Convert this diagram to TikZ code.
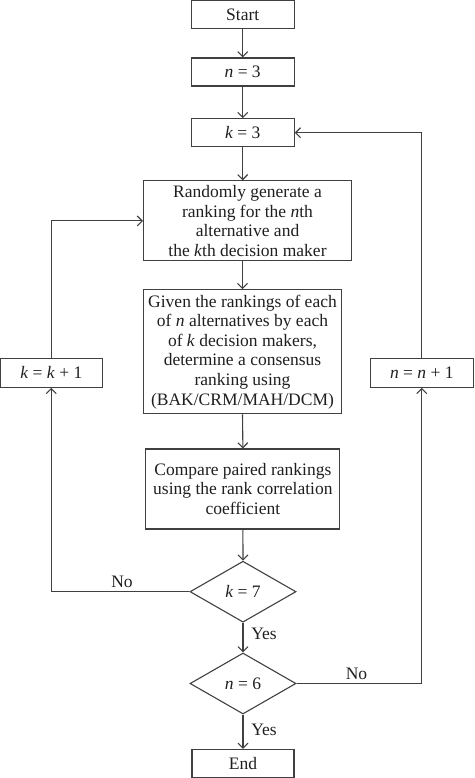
\documentclass[tikz,border=0pt]{standalone}
\usepackage{fontspec}
\setmainfont{Liberation Serif}
\usetikzlibrary{arrows.meta,shapes.geometric}
\begin{document}
\begin{tikzpicture}[x=1pt,y=-1pt,
  every node/.style={font=\fontsize{17.5}{19.6}\selectfont, text=black!88},
  box/.style={draw=black!75, line width=1.1pt, rectangle, inner sep=0pt, align=center},
  dec/.style={draw=black!75, line width=1.1pt, diamond, inner sep=0pt, minimum width=106pt, minimum height=61pt},
  lbl/.style={inner sep=0pt},
  conn/.style={draw=black!75, line width=1.1pt, -{Straight Barb[length=5pt,width=10pt]}},
  line/.style={draw=black!75, line width=1.1pt}]
\useasboundingbox (0,0) rectangle (474,778);
\node[box, minimum width=103pt, minimum height=28pt] (start) at (242.7,14.6) {Start};
\node[box, minimum width=103pt, minimum height=28pt] (n3) at (242.7,72) {\textit{n} = 3};
\node[box, minimum width=103pt, minimum height=28pt] (k3) at (242.7,132.7) {\textit{k} = 3};
\node[box, minimum width=208pt, minimum height=80pt] (rand) at (247.5,220.9) {Randomly generate a\\ranking for the \textit{n}th\\alternative and\\the \textit{k}th decision maker};
\node[box, minimum width=198pt, minimum height=124pt] (given) at (242.5,351.7) {Given the rankings of each\\of \textit{n} alternatives by each\\of \textit{k} decision makers,\\determine a consensus\\ranking using\\(BAK/CRM/MAH/DCM)};
\node[box, minimum width=194pt, minimum height=80pt] (comp) at (242.9,489) {Compare paired rankings\\using the rank correlation\\coefficient};
\node[box, minimum width=102pt, minimum height=29pt] (kinc) at (51.3,372.8) {\textit{k} = \textit{k} + 1};
\node[box, minimum width=103pt, minimum height=29pt] (ninc) at (421.8,372.8) {\textit{n} = \textit{n} + 1};
\node[dec] (k7) at (243,591.7) {\textit{k} = 7};
\node[dec] (n6) at (243,683.5) {\textit{n} = 6};
\node[box, minimum width=102pt, minimum height=28pt] (end) at (243,763.5) {End};
\draw[conn] (start.south) -- (n3.north);
\draw[conn] (n3.south) -- (k3.north);
\draw[conn] (k3.south) -- (k3.south |- rand.north);
\draw[conn] (given.north |- rand.south) -- (given.north);
\draw[conn] (given.south) -- (comp.north);
\draw[conn] (comp.south) -- (k7.north);
\draw[conn] (k7.south) -- (n6.north);
\draw[conn] (n6.south) -- (end.north);
\draw[conn] (k7.west) -- (kinc.south |- k7.west) -- (kinc.south);
\draw[conn] (kinc.north) -- (kinc.north |- rand.west) -- (rand.west);
\draw[conn] (n6.east) -- (ninc.south |- n6.east) -- (ninc.south);
\draw[conn] (ninc.north) -- (ninc.north |- k3.east) -- (k3.east);
\node[lbl] (nol) at (122,582) {No};
\node[lbl] (nor) at (356.5,674) {No};
\node[lbl] (yes1) at (264,634) {Yes};
\node[lbl] (yes2) at (264,730) {Yes};
\end{tikzpicture}
\end{document}
